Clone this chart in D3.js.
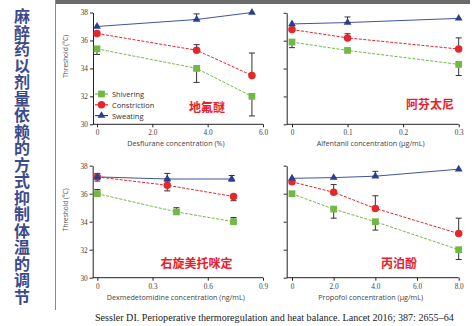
<!DOCTYPE html>
<html>
<head>
<meta charset="utf-8">
<script src="https://cdn.jsdelivr.net/npm/d3@7"></script>
<style>
  body { margin: 0; background: #fff; }
  svg { display: block; }
  .tick text { font-family: "Liberation Serif", serif; font-size: 7.3px; fill: #444; }
  .domain, .tick line { stroke: #222; stroke-width: 1; }
</style>
</head>
<body>
<div id="plot"></div>
<script>
const width = 474, height = 326;

// series names and colours
const seriesNames = ["Shivering", "Constriction", "Sweating"];
const seriesColors = ["#72b944", "#e5262b", "#2b3f92"];

const title = "麻醉药以剂量依赖的方式抑制体温的调节";
const citation = "Sessler DI. Perioperative thermoregulation and heat balance. Lancet 2016; 387: 2655–64";
const yTicks = [30, 32, 34, 36, 38];

// desflurane
const desX = [0, 3.6, 5.6];
const desShiver = [35.4, 34.0, 32.0];
const desConstrict = [36.5, 35.3, 33.5];
const desSweat = [37.0, 37.5, 38.0];
const desShiverErr = [[35.0, 35.4], [33.0, 34.0], [30.6, 32.0]];
const desConstrictErr = [null, [35.3, 35.7], [33.5, 35.1]];
const desSweatErr = [null, [37.5, 37.9], null];
const desTicks = [0, 2, 4, 6];

// alfentanil
const alfX = [0, 0.1, 0.3];
const alfShiver = [35.9, 35.3, 34.3];
const alfConstrict = [36.8, 36.2, 35.4];
const alfSweat = [37.2, 37.3, 37.6];
const alfShiverErr = [[35.5, 35.9], [35.2, 35.4], [33.5, 34.3]];
const alfConstrictErr = [null, [36.2, 36.5], [35.4, 36.2]];
const alfSweatErr = [null, [37.3, 37.7], null];
const alfTicks = [0, 0.1, 0.2, 0.3];

// dexmedetomidine
const dexShiverX = [0, 0.43, 0.74];
const dexConstrictX = [0, 0.38, 0.74];
const dexSweatX = [0, 0.38, 0.73];
const dexShiver = [36.0, 34.7, 34.0];
const dexConstrict = [37.2, 36.6, 35.8];
const dexSweat = [37.2, 37.05, 37.05];
const dexShiverErr = [[36.0, 36.3], [34.7, 35.0], [34.0, 34.3]];
const dexConstrictErr = [[36.9, 37.45], [36.2, 36.9], [35.5, 35.8]];
const dexSweatErr = [null, [37.05, 37.45], [36.9, 37.3]];
const dexTicks = [0, 0.3, 0.6, 0.9];

// propofol
const proX = [0, 2, 4, 8];
const proShiver = [36.0, 34.9, 34.0, 32.0];
const proConstrict = [36.85, 36.1, 34.95, 33.15];
const proSweat = [37.1, 37.15, 37.25, 37.75];
const proShiverErr = [[35.85, 36.1], [34.25, 34.9], [33.4, 34.0], [31.3, 32.0]];
const proConstrictErr = [null, [36.1, 36.65], [34.95, 35.85], [33.15, 34.25]];
const proSweatErr = [null, null, [37.25, 37.6], null];
const proTicks = [0, 2, 4, 6, 8];

const panels = [
  { xs: [desX, desX, desX], ys: [desShiver, desConstrict, desSweat], errs: [desShiverErr, desConstrictErr, desSweatErr],
    ticks: desTicks, fmt: d => d === 0 ? "0" : d.toFixed(1), xr: [97, 263], ax: 93, yr: [124.3, 12.5],
    xlabel: "Desflurane concentration (%)", drug: "地氟醚", dx: 207, dy: 106, ylab: true, legend: true },
  { xs: [alfX, alfX, alfX], ys: [alfShiver, alfConstrict, alfSweat], errs: [alfShiverErr, alfConstrictErr, alfSweatErr],
    ticks: alfTicks, fmt: d => d === 0 ? "0" : d.toFixed(1), xr: [292, 458.7], ax: 286.7, yr: [124.3, 12.8],
    xlabel: "Alfentanil concentration (μg/mL)", drug: "阿芬太尼", dx: 430, dy: 103, ylab: false },
  { xs: [dexShiverX, dexConstrictX, dexSweatX], ys: [dexShiver, dexConstrict, dexSweat], errs: [dexShiverErr, dexConstrictErr, dexSweatErr],
    ticks: dexTicks, fmt: d => d === 0 ? "0" : d.toFixed(1), xr: [97.3, 263], ax: 92.7, yr: [277.7, 165.7],
    xlabel: "Dexmedetomidine concentration (ng/mL)", drug: "右旋美托咪定", dx: 196.5, dy: 262, ylab: true },
  { xs: [proX, proX, proX], ys: [proShiver, proConstrict, proSweat], errs: [proShiverErr, proConstrictErr, proSweatErr],
    ticks: proTicks, fmt: d => d === 0 ? "0" : d.toFixed(1), xr: [292, 458.7], ax: 286.7, yr: [277.7, 165.7],
    xlabel: "Propofol concentration (μg/mL)", drug: "丙泊酚", dx: 399, dy: 262, ylab: false }
];

const svg = d3.select("#plot").append("svg")
  .attr("width", width).attr("height", height)
  .attr("viewBox", `0 0 ${width} ${height}`);

// frame bits
svg.append("rect").attr("x", 55).attr("y", 0).attr("width", 415).attr("height", 4).attr("fill", "#6b6b6b");
svg.append("line").attr("x1", 55.5).attr("x2", 55.5).attr("y1", 0).attr("y2", 310).attr("stroke", "#8a8a8a");

// vertical title, one text element set top to bottom
svg.append("text")
  .attr("x", 22).attr("y", 8)
  .attr("writing-mode", "vertical-rl")
  .attr("letter-spacing", 0.5)
  .attr("font-family", "Noto Sans CJK SC").attr("font-weight", "bold").attr("font-size", 16)
  .attr("fill", "#3b4a8c").text(title);

const symbolFor = [d3.symbolSquare, d3.symbolCircle, d3.symbolTriangle];
const symbolSize = [46, 44, 26];

function drawMarker(g, k, x, y) {
  g.append("path")
    .attr("d", d3.symbol().type(symbolFor[k]).size(symbolSize[k])())
    .attr("transform", `translate(${x},${y})`)
    .attr("fill", seriesColors[k]);
}

panels.forEach(p => {
  const x = d3.scaleLinear().domain([p.ticks[0], p.ticks[p.ticks.length - 1]]).range(p.xr);
  const y = d3.scaleLinear().domain([30, 38]).range(p.yr);
  const g = svg.append("g");

  // y axis
  g.append("g").attr("transform", `translate(${p.ax},0)`)
    .call(d3.axisLeft(y).tickValues(yTicks).tickSize(3).tickSizeOuter(0).tickPadding(2).tickFormat(p.ylab ? d3.format("d") : ""));

  // x axis from the y axis line to the last tick
  g.append("line").attr("x1", p.ax).attr("x2", p.xr[1]).attr("y1", p.yr[0]).attr("y2", p.yr[0]).attr("stroke", "#222");
  const xAxis = g.append("g").attr("transform", `translate(0,${p.yr[0]})`)
    .call(d3.axisBottom(x).tickValues(p.ticks).tickSize(3).tickSizeOuter(0).tickPadding(3).tickFormat(p.fmt));
  xAxis.select(".domain").remove();

  g.append("text").attr("x", (p.ax + p.xr[1]) / 2 - 2).attr("y", p.yr[0] + 22)
    .attr("text-anchor", "middle").attr("font-family", "Open Sans").attr("font-size", 7.2)
    .attr("fill", "#444").text(p.xlabel);

  if (p.ylab) {
    g.append("text")
      .attr("transform", `translate(68,${(p.yr[0] + p.yr[1]) / 2 - 12}) rotate(-90)`)
      .attr("text-anchor", "middle").attr("font-family", "Open Sans").attr("font-size", 6.5)
      .attr("fill", "#555").text("Threshold (°C)");
  }

  // lines
  [0, 1, 2].forEach(k => {
    const pts = p.xs[k].map((v, i) => [x(v), y(p.ys[k][i])]);
    g.append("path").attr("d", d3.line()(pts)).attr("fill", "none")
      .attr("stroke", seriesColors[k]).attr("stroke-width", k === 2 ? 0.9 : 1)
      .attr("stroke-dasharray", k === 2 ? null : "3,1.5");
  });

  // error bars
  [0, 1, 2].forEach(k => {
    p.errs[k].forEach((e, i) => {
      if (!e) return;
      const cx = x(p.xs[k][i]);
      const eg = g.append("g").attr("stroke", "#333").attr("stroke-width", 1);
      eg.append("line").attr("x1", cx).attr("x2", cx).attr("y1", y(e[0])).attr("y2", y(e[1]));
      eg.append("line").attr("x1", cx - 3).attr("x2", cx + 3).attr("y1", y(e[0])).attr("y2", y(e[0]));
      eg.append("line").attr("x1", cx - 3).attr("x2", cx + 3).attr("y1", y(e[1])).attr("y2", y(e[1]));
    });
  });

  // markers
  [0, 1, 2].forEach(k => {
    p.xs[k].forEach((v, i) => drawMarker(g, k, x(v), y(p.ys[k][i])));
  });

  // drug name
  g.append("text").attr("x", p.dx).attr("y", p.dy).attr("text-anchor", "middle")
    .attr("dominant-baseline", "central").attr("font-family", "Noto Sans CJK SC")
    .attr("font-weight", "bold").attr("font-size", 12).attr("fill", "#e8202a").text(p.drug);

  if (p.legend) {
    const lg = g.append("g");
    seriesNames.forEach((name, k) => {
      const ly = 94 + k * 10.8;
      lg.append("line").attr("x1", 95).attr("x2", 108).attr("y1", ly).attr("y2", ly)
        .attr("stroke", seriesColors[k]).attr("stroke-width", 1.2);
      drawMarker(lg, k, 101.5, ly);
      lg.append("text").attr("x", 112).attr("y", ly).attr("dominant-baseline", "central")
        .attr("font-family", "Open Sans").attr("font-size", 7.5).attr("fill", "#333").text(name);
    });
  }
});

// citation
svg.append("text").attr("x", 95).attr("y", 321)
  .attr("font-family", "Liberation Serif").attr("font-size", 10.1).attr("fill", "#222")
  .text(citation);
</script>
</body>
</html>
